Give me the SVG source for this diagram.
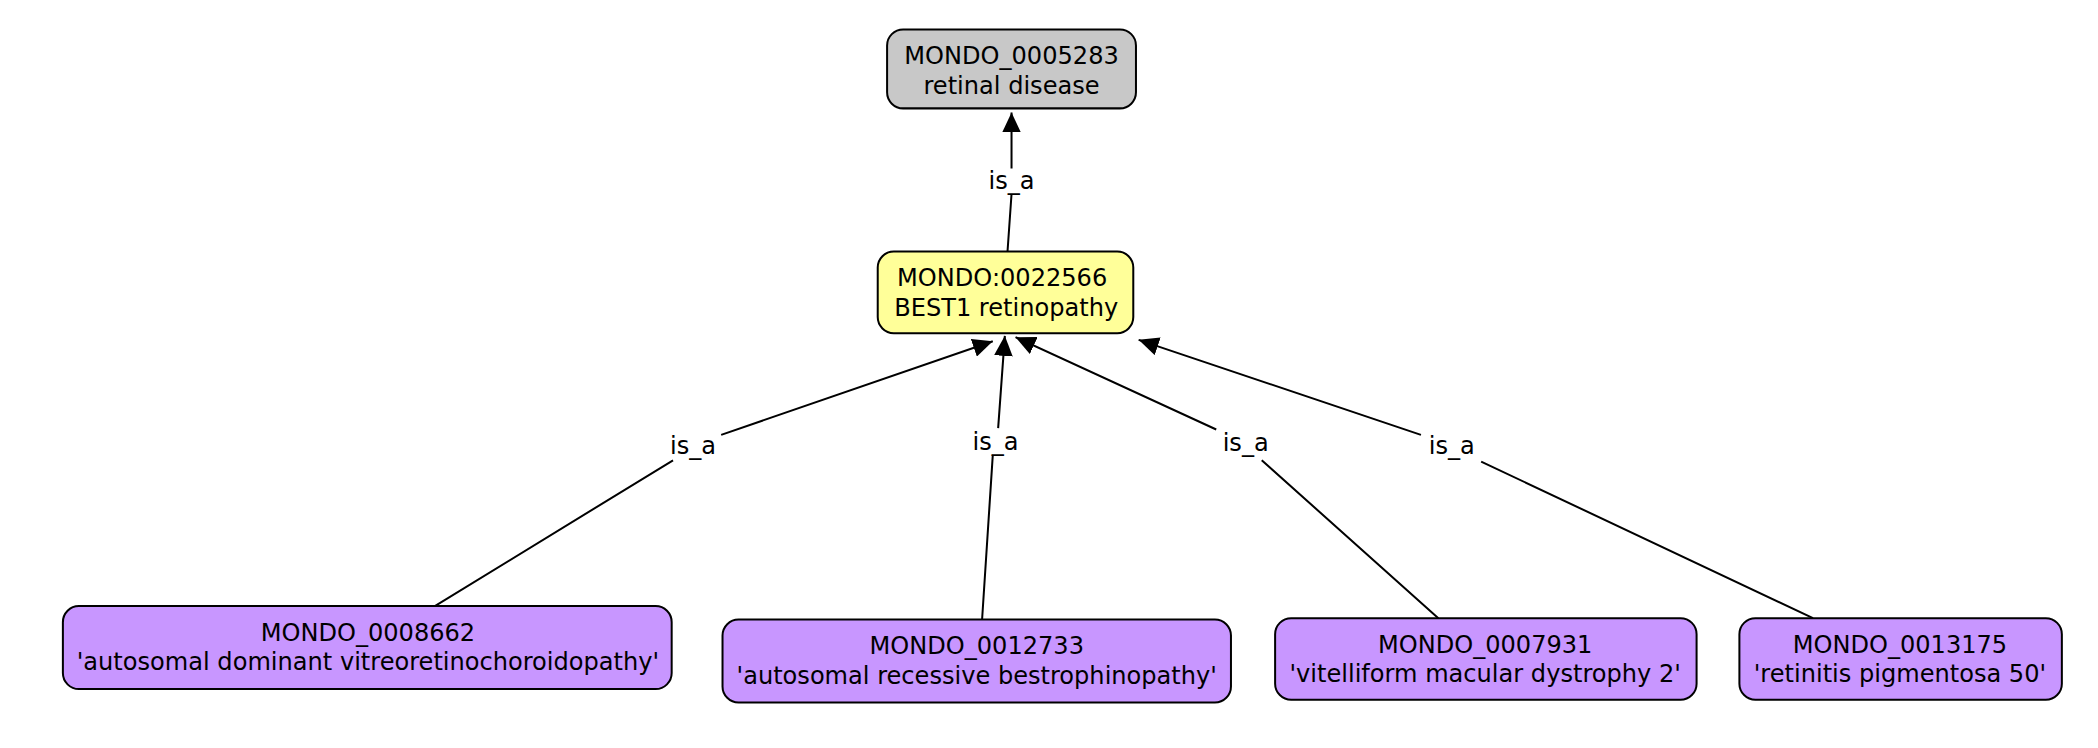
<svg xmlns="http://www.w3.org/2000/svg" width="2098" height="748" viewBox="0 0 2098 748">
<style>
text{font-family:"DejaVu Sans",sans-serif;font-size:18px;text-anchor:middle;fill:#000}
.n rect{stroke:#000;stroke-width:1.5}
.e{stroke:#000;stroke-width:1.5;fill:none}
</style>
<defs><marker id="a" markerUnits="userSpaceOnUse" markerWidth="16" markerHeight="14" refX="15" refY="7" orient="auto"><path d="M0,0 L15,7 L0,14 z" fill="#000"/></marker></defs>
<rect width="2098" height="748" fill="#fff"/>
<g transform="scale(1.338)">
<g id="edges">
<path class="e" d="M753,188 L756,145 M756,126 L756,84" marker-end="url(#a)"/>
<text x="756" y="141">is_a</text>
<path class="e" d="M325,453 L503,344 M539,325 L742,255" marker-end="url(#a)"/>
<text x="518" y="339">is_a</text>
<path class="e" d="M734,463 L742,340 M746,320 L751,251" marker-end="url(#a)"/>
<text x="744" y="336">is_a</text>
<path class="e" d="M1075,462 L943,344 M909,321 L759,252" marker-end="url(#a)"/>
<text x="931" y="337">is_a</text>
<path class="e" d="M1355,462 L1107,345 M1062,325 L851,254" marker-end="url(#a)"/>
<text x="1085" y="339">is_a</text>
</g>
<g id="n0" class="n"><rect x="663" y="22" width="186" height="59" rx="12" fill="#c8c8c8"/><text x="756" y="48">MONDO_0005283</text><text x="756" y="70">retinal disease</text></g>
<g id="n1" class="n"><rect x="656" y="188" width="191" height="61" rx="12" fill="#ffff99"/><text x="749" y="214">MONDO:0022566</text><text x="752" y="236">BEST1 retinopathy</text></g>
<g id="n2" class="n"><rect x="47" y="453" width="455" height="62" rx="12" fill="#c896ff"/><text x="275" y="479">MONDO_0008662</text><text x="275" y="501">'autosomal dominant vitreoretinochoroidopathy'</text></g>
<g id="n3" class="n"><rect x="540" y="463" width="380" height="62" rx="12" fill="#c896ff"/><text x="730" y="489">MONDO_0012733</text><text x="730" y="511">'autosomal recessive bestrophinopathy'</text></g>
<g id="n4" class="n"><rect x="953" y="462" width="315" height="61" rx="12" fill="#c896ff"/><text x="1110" y="488">MONDO_0007931</text><text x="1110" y="510">'vitelliform macular dystrophy 2'</text></g>
<g id="n5" class="n"><rect x="1300" y="462" width="241" height="61" rx="12" fill="#c896ff"/><text x="1420" y="488">MONDO_0013175</text><text x="1420" y="510">'retinitis pigmentosa 50'</text></g>
</g>
</svg>
